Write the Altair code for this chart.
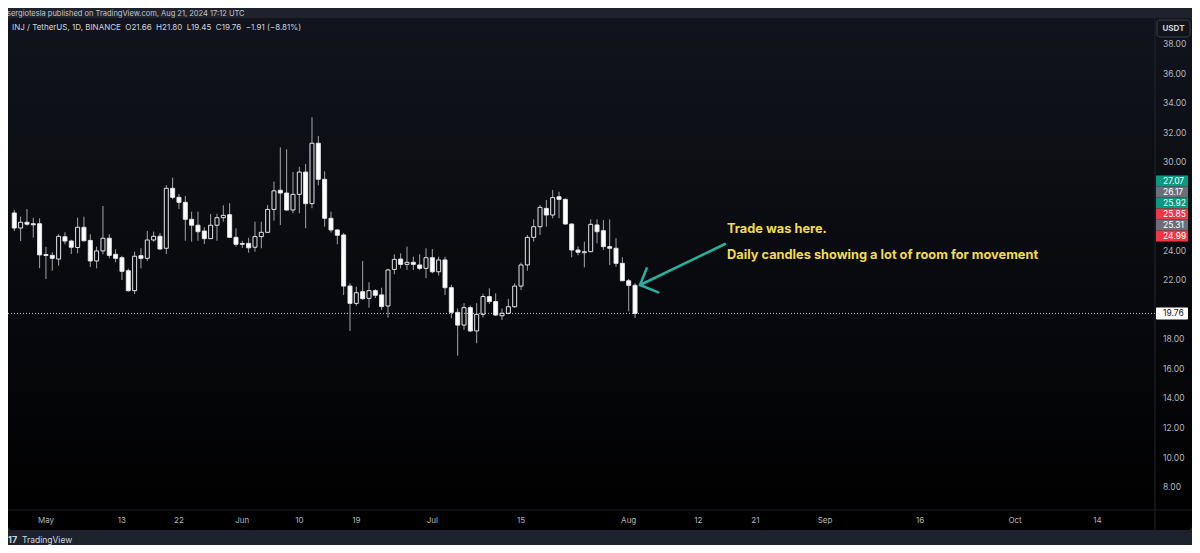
import altair as alt
import pandas as pd

# ---------------- data ----------------
start_date = "2024-04-26"
opens = [26.56, 25.54, 25.93, 25.83, 25.83, 23.75, 23.69, 23.44, 24.95, 24.66,
         24.22, 25.59, 24.70, 23.31, 23.99, 24.85, 23.76, 23.53, 22.65, 21.30,
         23.67, 23.49, 24.73, 24.98, 24.17, 28.23, 27.62, 27.28, 26.13, 25.73,
         25.34, 24.82, 25.73, 26.24, 26.44, 24.91, 24.49, 24.50, 24.24, 24.96,
         25.25, 26.80, 28.10, 27.91, 26.76, 27.82, 29.33, 27.19, 31.28, 28.84,
         26.20, 25.41, 25.07, 21.61, 20.44, 21.23, 20.78, 21.30, 21.01, 20.26,
         22.74, 23.44, 23.08, 23.22, 23.04, 22.81, 23.53, 22.58, 23.38, 21.50,
         19.83, 18.97, 20.15, 18.57, 19.70, 20.90, 20.56, 19.60, 19.77, 20.21,
         21.61, 23.04, 24.91, 25.63, 26.87, 26.42, 27.66, 27.48, 25.81, 24.05,
         23.87, 23.94, 25.75, 25.36, 24.28, 24.17, 23.15, 21.97, 21.66]
highs = [26.76, 26.31, 26.83, 26.24, 26.20, 24.27, 23.90, 25.12, 25.25, 24.75,
         26.24, 26.31, 25.12, 24.28, 27.03, 25.12, 24.10, 23.66, 22.79, 23.94,
         24.17, 25.34, 25.30, 25.20, 28.45, 28.95, 27.84, 27.71, 26.65, 26.65,
         25.59, 26.49, 26.50, 27.08, 27.22, 25.52, 24.68, 24.88, 25.97, 25.97,
         27.10, 28.68, 31.00, 30.87, 29.33, 29.69, 29.88, 33.04, 31.77, 29.38,
         26.65, 25.45, 25.20, 21.80, 21.57, 23.31, 21.87, 21.40, 21.50, 22.79,
         23.76, 23.83, 24.28, 23.60, 23.76, 24.17, 24.12, 23.60, 23.60, 21.70,
         20.10, 20.45, 20.30, 20.45, 21.10, 21.46, 21.12, 20.10, 20.75, 21.80,
         23.20, 25.07, 26.13, 27.10, 27.44, 28.12, 28.00, 27.55, 25.85, 24.30,
         24.62, 26.13, 26.13, 26.08, 26.13, 24.85, 23.56, 22.10, 21.80]
lows = [25.34, 24.66, 25.70, 24.89, 22.82, 22.09, 22.65, 22.99, 24.44, 23.78,
        23.83, 24.62, 22.90, 22.81, 23.76, 23.49, 23.22, 22.02, 21.23, 21.07,
        22.81, 23.31, 24.62, 24.05, 23.78, 27.49, 26.83, 24.68, 24.62, 24.68,
        24.46, 24.80, 24.68, 25.97, 24.90, 24.28, 24.19, 23.87, 23.94, 24.17,
        25.20, 26.04, 25.75, 26.70, 26.54, 26.54, 25.52, 26.88, 28.43, 25.63,
        25.23, 24.44, 21.00, 18.57, 20.28, 20.67, 20.15, 20.80, 19.99, 19.47,
        22.41, 22.81, 22.70, 22.70, 22.70, 22.14, 22.47, 22.32, 21.00, 19.43,
        16.90, 18.64, 18.50, 17.74, 19.50, 20.40, 19.60, 19.31, 19.70, 20.15,
        21.34, 22.65, 24.62, 25.07, 25.63, 26.20, 26.20, 25.80, 23.56, 23.70,
        22.88, 23.90, 24.50, 24.05, 23.04, 22.92, 21.95, 19.90, 19.45]
closes = [25.54, 25.93, 25.80, 25.76, 23.72, 23.68, 23.49, 24.98, 24.66, 24.24,
          25.59, 24.68, 23.31, 23.99, 24.85, 23.69, 23.49, 22.61, 21.30, 23.63,
          23.49, 24.73, 24.98, 24.12, 28.23, 27.62, 27.28, 26.13, 25.73, 25.29,
          24.82, 25.73, 26.24, 26.40, 24.91, 24.44, 24.44, 24.20, 24.96, 25.25,
          26.80, 28.06, 27.91, 26.76, 27.82, 29.33, 27.19, 31.28, 28.84, 26.20,
          25.41, 25.05, 21.61, 20.44, 21.16, 20.76, 21.30, 20.99, 20.22, 22.70,
          23.42, 23.08, 23.22, 23.08, 22.81, 23.53, 22.58, 23.38, 21.50, 19.83,
          18.97, 20.15, 18.57, 19.70, 20.90, 20.56, 19.65, 19.77, 20.21, 21.61,
          23.04, 24.91, 25.63, 26.94, 26.42, 27.60, 27.48, 25.81, 24.05, 23.90,
          23.94, 25.79, 25.29, 24.28, 24.17, 23.15, 21.97, 21.66, 19.76]

price_ticks = [38, 36, 34, 32, 30, 24, 22, 18, 16, 14, 12, 10, 8]
time_tick_dates = ["2024-05-01", "2024-05-13", "2024-05-22", "2024-06-01", "2024-06-10",
                   "2024-06-19", "2024-07-01", "2024-07-15", "2024-08-01", "2024-08-12",
                   "2024-08-21", "2024-09-01", "2024-09-16", "2024-10-01", "2024-10-14"]
time_tick_labels = ["May", "13", "22", "Jun", "10", "19", "Jul", "15", "Aug", "12",
                    "21", "Sep", "16", "Oct", "14"]

badge_values = ["27.07", "26.17", "25.92", "25.85", "25.31", "24.99"]
badge_colors = ["#089981", "#6c6f7a", "#089981", "#f23645", "#6c6f7a", "#f23645"]

header_text = "sergiotesla published on TradingView.com, Aug 21, 2024 17:12 UTC"
legend_text = ("INJ / TetherUS, 1D, BINANCE\u00a0\u00a0O21.66\u00a0\u00a0H21.80\u00a0\u00a0"
               "L19.45\u00a0\u00a0C19.76\u00a0\u00a0\u22121.91 (\u22128.81%)")
note_lines = ["Trade was here.", "Daily candles showing a lot of room for movement"]
currency = "USDT"
brand = "TradingView"

# ---------------- frames ----------------
dates = pd.date_range(start_date, periods=len(opens), freq="D").strftime("%Y-%m-%d").tolist()
df = pd.DataFrame({"date": dates, "open": opens, "high": highs, "low": lows, "close": closes})
last_df = pd.DataFrame({"p": [closes[-1]]})
one = pd.DataFrame({"k": [0]})
xt_df = pd.DataFrame({"d": time_tick_dates, "lab": time_tick_labels})
yt_df = pd.DataFrame({"v": price_ticks})

def ms(s):
    return int(pd.Timestamp(s, tz="UTC").value // 10**6)

FONT = "Inter"
W, H = 1147, 492
PANEL_W, PANEL_H = 1184, 512
AX_COL = "#b2b5be"

xscale = alt.Scale(type="utc", domain=[ms("2024-04-25 19:10"), ms("2024-10-22 07:10")])
yscale = alt.Scale(domain=[6.45, 39.76], nice=False, zero=False)

def X(field):
    return alt.X(field, scale=xscale, axis=None)

def Y(field):
    return alt.Y(field, scale=yscale, axis=None)

grad = alt.LinearGradient(gradient="linear",
                          stops=[alt.GradientStop(color="#11141c", offset=0),
                                 alt.GradientStop(color="#000000", offset=1)],
                          x1=0, x2=0, y1=0, y2=1)

panel = alt.Chart(one).mark_rect(fill=grad, cornerRadius=4).encode(
    x=alt.value(0), x2=alt.value(PANEL_W), y=alt.value(0), y2=alt.value(PANEL_H))
vsep = alt.Chart(one).mark_rule(color="#22252e", strokeWidth=1).encode(
    x=alt.value(W), y=alt.value(0), y2=alt.value(PANEL_H))
hsep = alt.Chart(one).mark_rule(color="#1a1c22", strokeWidth=1).encode(
    x=alt.value(0), x2=alt.value(PANEL_W), y=alt.value(H))

# axis labels drawn through the shared scales
x_labels = alt.Chart(xt_df).mark_text(align="center", baseline="middle", color=AX_COL,
                                      fontSize=8, font=FONT).encode(
    x=X("d:T"), y=alt.value(H + 11), text="lab:N")
y_labels = alt.Chart(yt_df).mark_text(align="left", baseline="middle", color=AX_COL,
                                      fontSize=8.5, font=FONT).encode(
    y=Y("v:Q"), x=alt.value(W + 8), text=alt.Text("v:Q", format=".2f"))

base = alt.Chart(df).transform_calculate(
    top="max(datum.open, datum.close)", bot="min(datum.open, datum.close)")

wick_up = base.mark_rule(color="#a2a5ad", strokeWidth=1).encode(
    x=X("date:T"), y=Y("high:Q"), y2="top:Q")
wick_dn = base.mark_rule(color="#a2a5ad", strokeWidth=1).encode(
    x=X("date:T"), y=Y("bot:Q"), y2="low:Q")
bodies = base.mark_bar(size=4, stroke="#e3e5ea", strokeWidth=1).encode(
    x=X("date:T"), y=Y("open:Q"), y2="close:Q",
    fill=alt.condition("datum.close >= datum.open", alt.value("transparent"), alt.value("#ffffff")))

price_line = alt.Chart(last_df).mark_rule(color="#c8cad0", strokeWidth=1, strokeDash=[1, 2]).encode(
    y=Y("p:Q"), x=alt.value(0), x2=alt.value(W))
price_box = alt.Chart(last_df).mark_rect(color="#ffffff", yOffset=-6, y2Offset=6, cornerRadius=1).encode(
    y=Y("p:Q"), y2="p:Q", x=alt.value(W + 1), x2=alt.value(W + 33))
price_txt = alt.Chart(last_df).mark_text(align="left", baseline="middle", color="#131722",
                                         fontSize=8.5, font=FONT).encode(
    y=Y("p:Q"), x=alt.value(W + 8), text=alt.Text("p:Q", format=".2f"))

bdf = pd.DataFrame({"label": badge_values, "col": badge_colors})
bdf["y0"] = [157.5 + 11 * i for i in range(len(bdf))]
bdf["y1"] = bdf["y0"] + 11
bdf["yc"] = bdf["y0"] + 5.5
badge_rect = alt.Chart(bdf).mark_rect().encode(
    y=alt.Y("y0:Q", scale=None), y2="y1:Q", x=alt.value(W + 1), x2=alt.value(W + 33),
    color=alt.Color("col:N", scale=None))
badge_txt = alt.Chart(bdf).mark_text(align="left", baseline="middle", color="#ffffff",
                                     fontSize=8.5, font=FONT).encode(
    y=alt.Y("yc:Q", scale=None), x=alt.value(W + 8), text="label:N")

usdt_box = alt.Chart(one).mark_rect(fill="transparent", stroke="#3a3e4a", strokeWidth=1,
                                    cornerRadius=3).encode(
    x=alt.value(W + 2), x2=alt.value(W + 35), y=alt.value(2), y2=alt.value(19))
usdt_txt = alt.Chart(one).mark_text(align="center", baseline="middle", color="#d1d4dc",
                                    fontSize=8, font=FONT, fontWeight="bold").encode(
    x=alt.value(W + 18.5), y=alt.value(10.5), text=alt.value(currency))

legend = alt.Chart(one).mark_text(align="left", baseline="middle", color="#d1d4dc",
                                  fontSize=8, font=FONT).encode(
    x=alt.value(4), y=alt.value(10), text=alt.value(legend_text))
header = alt.Chart(one).mark_text(align="left", baseline="alphabetic", color="#c3c6cd",
                                  fontSize=7.5, font=FONT).encode(
    x=alt.value(-1), y=alt.value(-2.5), text=alt.value(header_text))
logo = alt.Chart(one).mark_text(align="left", baseline="middle", color="#d1d4dc",
                                fontSize=9, font=FONT, fontWeight="bold").encode(
    x=alt.value(0), y=alt.value(522), text=alt.value("17"))
brand_txt = alt.Chart(one).mark_text(align="left", baseline="middle", color="#d1d4dc",
                                     fontSize=8.5, font=FONT).encode(
    x=alt.value(14), y=alt.value(522), text=alt.value(brand))

ARROW = "#26b0a0"
arrow_segs = pd.DataFrame({
    "x0": [717, 632, 632], "y0": [226, 267, 267],
    "x1": [632, 638.7, 650.3], "y1": [267, 250.3, 274.3]})
arrow = alt.Chart(arrow_segs).mark_rule(color=ARROW, strokeWidth=2.5, strokeCap="round").encode(
    x=alt.X("x0:Q", scale=None), y=alt.Y("y0:Q", scale=None),
    x2="x1:Q", y2="y1:Q")

note1 = alt.Chart(one).mark_text(align="left", baseline="alphabetic", color="#f2dc4b",
                                 fontSize=12.8, font=FONT, fontWeight="bold").encode(
    x=alt.value(719), y=alt.value(215), text=alt.value(note_lines[0]))
note2 = alt.Chart(one).mark_text(align="left", baseline="alphabetic", color="#f2dc4b",
                                 fontSize=12.8, font=FONT, fontWeight="bold").encode(
    x=alt.value(719), y=alt.value(241), text=alt.value(note_lines[1]))

chart = alt.layer(
    panel, vsep, hsep, x_labels, y_labels, price_line, wick_up, wick_dn, bodies,
    price_box, price_txt, badge_rect, badge_txt, usdt_box, usdt_txt,
    legend, header, logo, brand_txt, arrow, note1, note2
).properties(
    width=W, height=H,
    padding={"left": 0, "top": 10, "right": 37, "bottom": 35},
    autosize=alt.AutoSizeParams(type="none"),
    background="#1e222d",
).configure_view(stroke=None)

chart.save("out.html", embed_options={"renderer": "svg", "actions": False})
